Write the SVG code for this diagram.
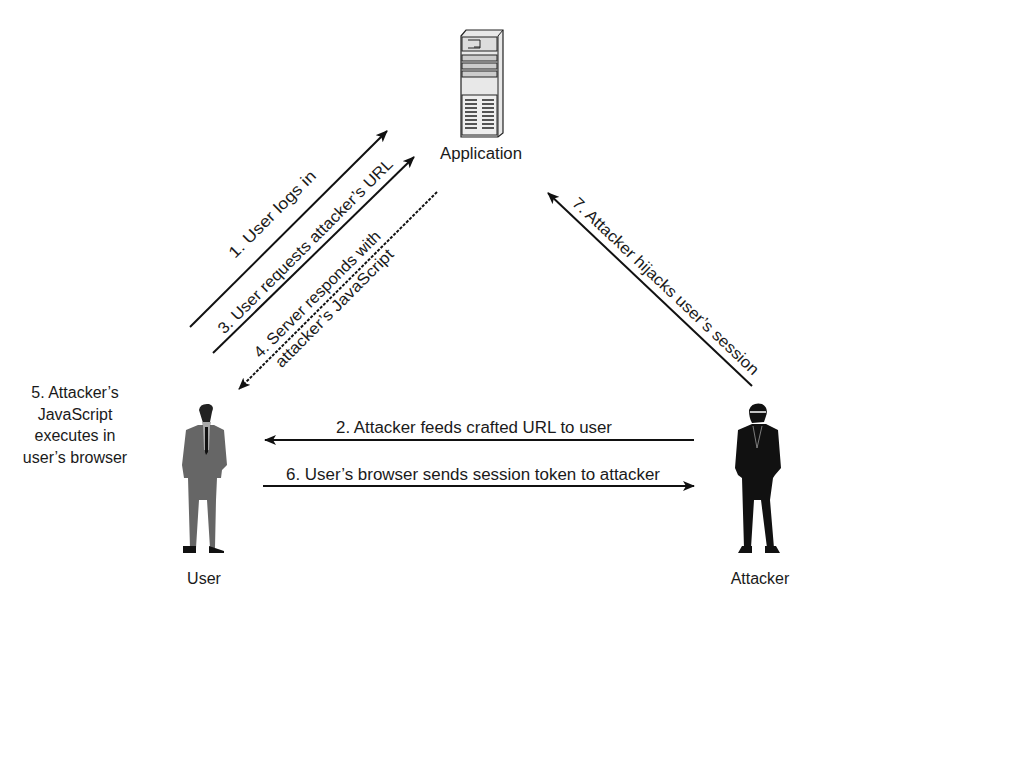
<svg xmlns="http://www.w3.org/2000/svg" width="1024" height="768" viewBox="0 0 1024 768">
<defs>
<marker id="ah" markerWidth="12" markerHeight="10" refX="11" refY="5" orient="auto" markerUnits="userSpaceOnUse"><path d="M0,0 L12,5 L0,10 L3,5 Z" fill="#111"/></marker>
<style>
text{font-family:"Liberation Sans",Arial,sans-serif;font-size:16px;fill:#1a1a1a}
.c{stroke:#111;stroke-width:2;fill:none;marker-end:url(#ah)}
.m{text-anchor:middle}
</style>
</defs>
<rect width="1024" height="768" fill="#fff"/>
<g id="application">
<path d="M461,36 L466,30 L503,30 L503,133 L498,137 L461,137 Z" fill="#e8e8e8" stroke="#222" stroke-width="1.2"/>
<path d="M498,36 L503,30 M498,36 L498,137" stroke="#222" fill="none"/>
<rect x="462" y="37" width="35" height="14" fill="#ddd" stroke="#222"/>
<path d="M468,40 H480 V48 H468 M474,47 H480" stroke="#222" fill="none"/>
<rect x="462" y="55" width="35" height="6" fill="#ccc" stroke="#222"/>
<rect x="462" y="63" width="35" height="6" fill="#ccc" stroke="#222"/>
<rect x="462" y="71" width="35" height="6" fill="#ccc" stroke="#222"/>
<rect x="462" y="95" width="35" height="40" fill="#eee" stroke="#222"/>
<path d="M465,100h12M465,104h12M465,108h12M465,112h12M465,116h12M465,120h12M465,124h12M465,128h12M482,100h12M482,104h12M482,108h12M482,112h12M482,116h12M482,120h12M482,124h12M482,128h12" stroke="#222" stroke-width="1.5"/>
<text x="481" y="159" class="m" textLength="82" lengthAdjust="spacingAndGlyphs">Application</text>
</g>
<g id="user">
<path d="M199,410 Q200,403 209,404 Q215,406 212,412 L210,422 L203,423 Z" fill="#222"/>
<path d="M202,422 L211,422 L210,428 L203,428 Z" fill="#aaa"/>
<path d="M186,430 L198,425 L214,425 L224,430 L227,465 L222,470 L221,478 L217,478 L216,500 L215,548 L210,548 L207,500 L199,500 L196,548 L190,548 L188,478 L184,478 L182,465 Z" fill="#666"/>
<path d="M203,425 L210,425 L209,450 L204,450 Z" fill="#aaa"/>
<path d="M205,427 L208,427 L208,452 L206,455 L205,452 Z" fill="#111"/>
<path d="M183,546 L196,546 L196,553 L183,553 Z M209,546 L224,551 L224,553 L209,553 Z" fill="#111"/>
<text x="204" y="584" class="m">User</text>
</g>
<g id="attacker">
<path d="M749,410 Q752,402 762,404 Q769,408 766,416 L764,422 L752,423 Q749,418 749,410 Z" fill="#111"/>
<path d="M750,412 L766,412" stroke="#fff" stroke-width="1.5"/>
<path d="M738,430 L752,424 L766,424 L778,430 L781,468 L775,475 L773,478 L770,500 L774,548 L767,548 L761,500 L754,500 L751,548 L744,548 L742,478 L738,475 L735,468 Z" fill="#111"/>
<path d="M742,546 L752,546 L752,553 L738,553 Z M765,546 L776,546 L780,553 L765,553 Z" fill="#111"/>
<path d="M753,426 L757,448 L762,426" stroke="#aaa" stroke-width="0.7" fill="none"/>
<text x="760" y="584" class="m">Attacker</text>
</g>
<g id="note5">
<text x="75" y="398" class="m">5. Attacker’s</text>
<text x="75" y="420" class="m">JavaScript</text>
<text x="75" y="441" class="m">executes in</text>
<text x="75" y="463" class="m">user’s browser</text>
</g>
<g id="connectors">
<line x1="190" y1="327" x2="387" y2="131" class="c"/>
<line x1="213" y1="353" x2="414" y2="157" class="c"/>
<line x1="437" y1="192" x2="239" y2="389" class="c" stroke-dasharray="3 1.5"/>
<line x1="752" y1="386" x2="548" y2="193" class="c"/>
<line x1="694" y1="440" x2="265" y2="440" class="c"/>
<line x1="263" y1="486" x2="694" y2="486" class="c"/>
<text transform="translate(276,218) rotate(-45)" class="m" textLength="116" lengthAdjust="spacingAndGlyphs">1. User logs in</text>
<text transform="translate(309,250) rotate(-45)" class="m" textLength="240" lengthAdjust="spacingAndGlyphs">3. User requests attacker’s URL</text>
<text transform="translate(321,298) rotate(-45)" class="m" textLength="172" lengthAdjust="spacingAndGlyphs">4. Server responds with</text>
<text transform="translate(338,312) rotate(-45)" class="m" textLength="160" lengthAdjust="spacingAndGlyphs">attacker’s JavaScript</text>
<text transform="translate(662,290) rotate(43.4)" class="m" textLength="250" lengthAdjust="spacingAndGlyphs">7. Attacker hijacks user’s session</text>
<text x="474" y="433" class="m" textLength="276" lengthAdjust="spacingAndGlyphs">2. Attacker feeds crafted URL to user</text>
<text x="473" y="480" class="m" textLength="374" lengthAdjust="spacingAndGlyphs">6. User’s browser sends session token to attacker</text>
</g>
</svg>
